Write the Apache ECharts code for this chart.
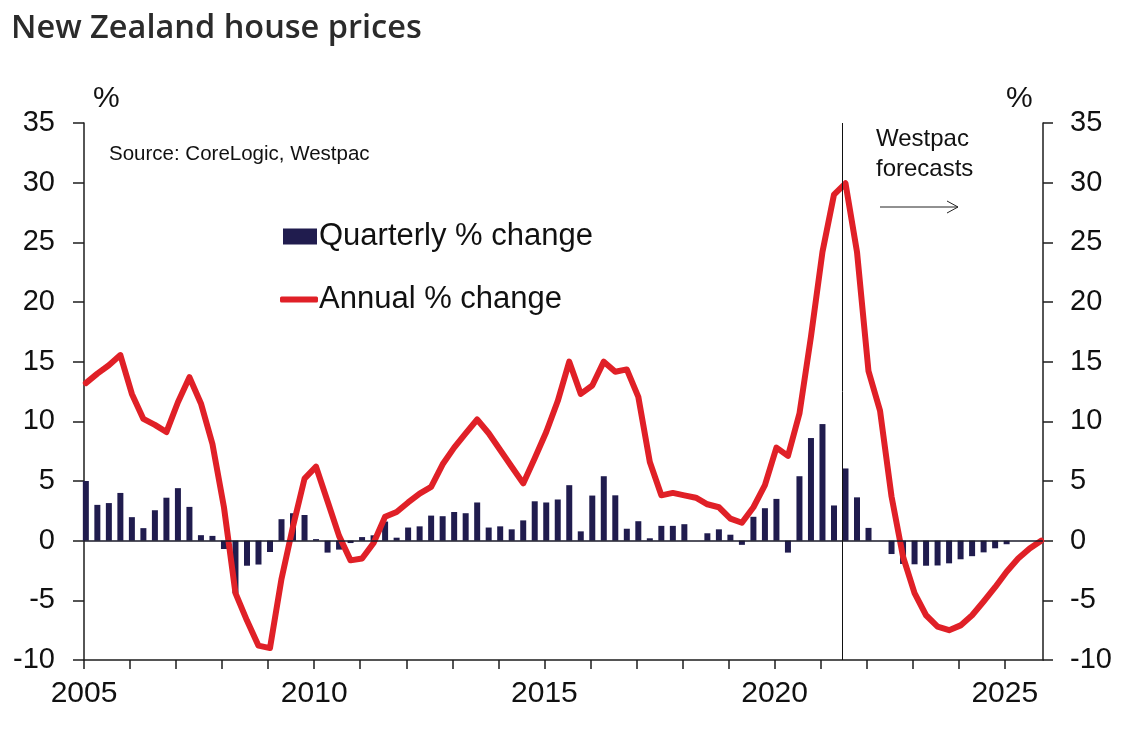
<!DOCTYPE html>
<html>
<head>
<meta charset="utf-8">
<script src="https://cdn.jsdelivr.net/npm/echarts@6/dist/echarts.min.js"></script>
<style>
html,body{margin:0;padding:0;background:#fff;}
#chart{width:1136px;height:732px;}
</style>
</head>
<body>
<div id="chart"></div>
<script>
// ---- Data (quarterly, starting 2005 Q1) ----
const startYear = 2005;
const quarterlyChange = [
  5.0, 3.0, 3.15, 4.0, 1.97, 1.05, 2.55, 3.6, 4.4, 2.83,
  0.46, 0.4, -0.7, -4.4, -2.1, -2.0, -0.95, 1.8, 2.3, 2.15,
  0.13, -1.0, -0.75, -0.2, 0.3, 0.45, 1.6, 0.25, 1.1, 1.2,
  2.1, 2.05, 2.4, 2.3, 3.2, 1.1, 1.2, 0.95, 1.7, 3.3,
  3.2, 3.45, 4.65, 0.78, 3.78, 5.4, 3.8, 1.0, 1.63, 0.2,
  1.24, 1.24, 1.38, 0, 0.62, 0.95, 0.5, -0.35, 2.0, 2.72,
  3.5, -1.0, 5.4, 8.6, 9.77, 2.95, 6.05, 3.63, 1.07, 0,
  -1.12, -1.95, -1.98, -2.1, -2.08, -1.9, -1.56, -1.3, -0.98, -0.64,
  -0.3, 0, 0, 0
];
const annualChange = [
  13.2, 14.0, 14.7, 15.55, 12.3, 10.2, 9.7, 9.1, 11.6, 13.7,
  11.5, 8.1, 2.8, -4.4, -6.7, -8.8, -9.0, -3.2, 1.2, 5.2,
  6.2, 3.3, 0.4, -1.65, -1.5, -0.2, 2.0, 2.4, 3.2, 3.95,
  4.5, 6.4, 7.8, 9.0, 10.15, 9.0, 7.6, 6.2, 4.8, 6.9,
  9.1, 11.7, 15.0, 12.3, 13.0, 15.0, 14.15, 14.35, 12.05, 6.6,
  3.8, 4.0, 3.8, 3.6, 3.05, 2.8, 1.85, 1.5, 2.8, 4.65,
  7.8, 7.1, 10.65, 17.1, 24.2, 29.0, 29.95, 24.2, 14.2, 10.9,
  3.7, -1.35, -4.4, -6.25, -7.2, -7.5, -7.1, -6.25, -5.1, -3.9,
  -2.6, -1.5, -0.65, 0.0
];
const forecastStart = 2021.46;
const yTicks = { min: -10, max: 35, interval: 5 };
const xRange = { min: 2005, max: 2025.83 };

// quarter positions on the time axis
const quarterPos = quarterlyChange.map((_, i) => +(startYear + i / 4 + 0.04).toFixed(3));

const barData = quarterPos.map((x, i) => [x, quarterlyChange[i]]);
const lineData = quarterPos.map((x, i) => [x, annualChange[i]]);

const FONT = "'Liberation Sans', Arial, sans-serif";
const AX = '#1e1e1e';

const chart = echarts.init(document.getElementById('chart'), null, { renderer: 'canvas' });
chart.setOption({
  backgroundColor: '#ffffff',
  animation: false,
  title: {
    text: 'New Zealand house prices',
    left: 6, top: 7,
    textStyle: { fontFamily: "'Open Sans', 'Noto Sans', sans-serif", fontWeight: 600, fontSize: 32.5, color: '#2b2b2b' }
  },
  grid: { left: 84, right: 93, top: 123, bottom: 72 },
  legend: [
    {
      data: ['Quarterly % change'],
      left: 278, top: 216,
      icon: 'rect', itemWidth: 34, itemHeight: 16, itemGap: 5,
      textStyle: { fontFamily: FONT, fontSize: 31, color: '#111', padding: [0, 0, 0, -3] }
    },
    {
      data: [{ name: 'Annual % change', icon: 'roundRect' }],
      left: 275, top: 279,
      itemWidth: 38, itemHeight: 6,
      textStyle: { fontFamily: FONT, fontSize: 31, color: '#111', padding: [0, 0, 0, -4] }
    }
  ],
  xAxis: {
    type: 'value',
    min: xRange.min, max: xRange.max, interval: 1,
    axisLine: { onZero: false, lineStyle: { color: AX, width: 1.5 } },
    axisTick: { length: 9, lineStyle: { color: AX, width: 1.5 } },
    splitLine: { show: false },
    axisLabel: {
      fontFamily: FONT, fontSize: 30, color: '#111', margin: 19,
      showMaxLabel: false,
      formatter: v => (Math.round(v) % 5 === 0 ? String(Math.round(v)) : '')
    }
  },
  yAxis: [
    {
      type: 'value', min: yTicks.min, max: yTicks.max, interval: yTicks.interval,
      axisLine: { show: true, lineStyle: { color: AX, width: 1.5 } },
      axisTick: { show: true, length: 11, lineStyle: { color: AX, width: 1.5 } },
      splitLine: { show: false },
      axisLabel: { fontFamily: FONT, fontSize: 29, color: '#111', margin: 29 }
    },
    {
      type: 'value', min: yTicks.min, max: yTicks.max, interval: yTicks.interval,
      position: 'right',
      axisLine: { show: true, lineStyle: { color: AX, width: 1.5 } },
      axisTick: { show: true, length: 10, lineStyle: { color: AX, width: 1.5 } },
      splitLine: { show: false },
      axisLabel: { fontFamily: FONT, fontSize: 29, color: '#111', margin: 27 }
    }
  ],
  series: [
    {
      name: 'Quarterly % change',
      type: 'bar',
      data: barData,
      barWidth: 6,
      itemStyle: { color: '#201c4e' },
      z: 2,
      markLine: {
        silent: true, symbol: 'none', label: { show: false },
        lineStyle: { color: '#1a1a2a', width: 1.5, type: 'solid' },
        data: [{ yAxis: 0 }]
      }
    },
    {
      name: 'Annual % change',
      type: 'line',
      data: lineData,
      symbol: 'none',
      lineStyle: { color: '#e02027', width: 6, cap: 'round', join: 'round' },
      itemStyle: { color: '#e02027' },
      z: 4,
      markLine: {
        silent: true, symbol: 'none', label: { show: false },
        lineStyle: { color: '#111', width: 1, type: 'solid' },
        data: [{ xAxis: forecastStart }]
      }
    }
  ],
  graphic: [
    { type: 'text', left: 93, top: 84, style: { text: '%', font: "30px 'Liberation Sans', Arial, sans-serif", fill: '#111' } },
    { type: 'text', left: 1006, top: 84, style: { text: '%', font: "30px 'Liberation Sans', Arial, sans-serif", fill: '#111' } },
    { type: 'text', left: 109, top: 144, style: { text: 'Source: CoreLogic, Westpac', font: "20.5px 'Liberation Sans', Arial, sans-serif", fill: '#111' } },
    { type: 'text', left: 876, top: 124, style: { text: 'Westpac\nforecasts', font: "24px 'Liberation Sans', Arial, sans-serif", lineHeight: 30, fill: '#111' } },
    { type: 'line', shape: { x1: 880, y1: 207, x2: 958, y2: 207 }, style: { stroke: '#222', lineWidth: 1 } },
    { type: 'polyline', shape: { points: [[947, 201], [958, 207], [947, 213]] }, style: { stroke: '#222', lineWidth: 1, fill: null } }
  ]
});
</script>
</body>
</html>
